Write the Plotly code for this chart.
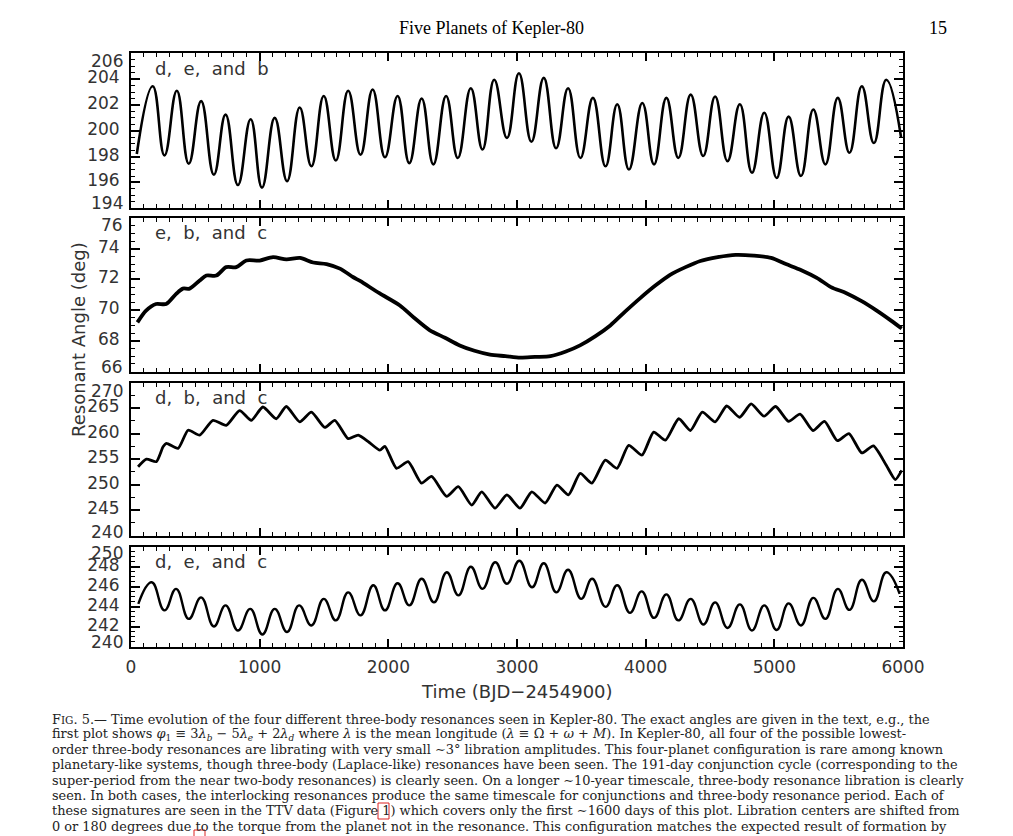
import plotly.graph_objects as go

# ---------------- data ----------------
time_ticks = [0, 1000, 2000, 3000, 4000, 5000, 6000]

# panel 1: d, e, and b
t1 = [45, 169, 260, 356, 449, 545, 644, 735, 831, 930, 1018, 1117, 1213, 1311, 1402, 1498,
      1592, 1688, 1784, 1878, 1974, 2072, 2163, 2259, 2350, 2449, 2540, 2641, 2732, 2823, 2922,
      3015, 3112, 3208, 3304, 3397, 3493, 3590, 3688, 3779, 3870, 3974, 4065, 4161, 4254, 4350,
      4447, 4540, 4636, 4732, 4826, 4922, 5018, 5111, 5207, 5303, 5397, 5493, 5584, 5680, 5774,
      5870, 5985]
phi1 = [198.2, 203.45, 198.1, 203.1, 197.45, 202.3, 196.6, 201.25, 195.8, 200.9, 195.6, 201.0,
        196.1, 201.8, 197.25, 202.7, 197.7, 203.1, 198.15, 203.2, 197.95, 202.7, 197.5, 202.5,
        197.4, 202.7, 197.9, 203.3, 198.55, 203.95, 199.45, 204.45, 199.15, 204.1, 198.65, 203.3,
        197.9, 202.55, 197.25, 202.05, 197.0, 202.15, 197.4, 202.55, 197.9, 202.8, 198.05, 202.65,
        197.65, 202.05, 196.75, 201.4, 196.35, 201.1, 196.5, 201.65, 197.4, 202.55, 198.3, 203.45,
        199.05, 203.95, 199.5]

# panel 2: e, b, and c
t2 = [50, 117, 195, 273, 351, 403, 455, 534, 586, 663, 740, 818, 896, 1000, 1104, 1208, 1313,
      1416, 1520, 1624, 1728, 1780, 1930, 2090, 2200, 2320, 2440, 2555, 2670, 2790, 2910, 3025,
      3140, 3260, 3380, 3490, 3610, 3725, 3840, 3960, 4075, 4190, 4310, 4425, 4560, 4700, 4840,
      4975, 5090, 5210, 5330, 5440, 5560, 5675, 5790, 5910, 5990]
phi2 = [69.2, 69.97, 70.4, 70.4, 71.06, 71.4, 71.4, 71.93, 72.25, 72.25, 72.8, 72.8, 73.23,
        73.23, 73.45, 73.3, 73.4, 73.1, 73.0, 72.7, 72.14, 71.9, 71.1, 70.3, 69.5, 68.7, 68.2,
        67.7, 67.35, 67.1, 67.0, 66.9, 66.95, 67.0, 67.3, 67.7, 68.3, 69.0, 69.9, 70.8, 71.6,
        72.3, 72.8, 73.2, 73.45, 73.6, 73.55, 73.4, 73.0, 72.6, 72.1, 71.5, 71.1, 70.6, 70.0,
        69.3, 68.8]

# panel 3: d, b, and c
t3 = [55, 120, 197, 249, 275, 366, 444, 534, 637, 740, 844, 935, 1025, 1129, 1207, 1311, 1402,
      1506, 1584, 1688, 1766, 1850, 1934, 1973, 2064, 2154, 2258, 2336, 2453, 2544, 2648, 2726,
      2829, 2921, 3024, 3115, 3219, 3310, 3400, 3491, 3582, 3686, 3777, 3868, 3972, 4062, 4153,
      4257, 4348, 4440, 4540, 4630, 4730, 4820, 4920, 5010, 5110, 5200, 5300, 5390, 5490, 5580,
      5680, 5770, 5870, 5940, 5990]
phi3 = [253.5, 255.0, 254.5, 257.4, 258.1, 257.1, 260.65, 259.7, 262.6, 261.6, 264.5, 262.6,
        265.2, 262.9, 265.3, 262.3, 264.2, 261.2, 262.6, 259.0, 259.7, 258.3, 256.75, 257.5,
        253.2, 254.5, 250.3, 251.6, 247.7, 249.6, 246.0, 248.6, 245.4, 248.0, 245.4, 248.6,
        246.4, 249.9, 248.0, 252.2, 250.3, 254.8, 253.2, 257.7, 255.8, 260.3, 258.7, 262.9,
        260.6, 264.2, 262.3, 265.4, 263.2, 265.8, 263.4, 265.3, 262.4, 263.8, 260.6, 262.4,
        258.6, 260.0, 256.2, 257.6, 253.8, 251.0, 252.8]

# panel 4: d, e, and c
t4 = [57, 161, 260, 351, 449, 545, 644, 735, 831, 927, 1021, 1117, 1213, 1306, 1402, 1498,
      1592, 1688, 1784, 1883, 1974, 2072, 2163, 2259, 2355, 2454, 2545, 2641, 2732, 2831, 2922,
      3018, 3117, 3208, 3306, 3397, 3499, 3584, 3688, 3779, 3878, 3969, 4065, 4161, 4254, 4350,
      4449, 4540, 4636, 4732, 4826, 4922, 5018, 5111, 5207, 5303, 5397, 5493, 5584, 5680, 5774,
      5870, 5974]
phi4 = [244.3, 246.45, 243.65, 245.8, 242.8, 244.95, 242.05, 244.15, 241.65, 243.8, 241.25,
        243.8, 241.5, 244.15, 242.15, 244.8, 242.65, 245.45, 243.15, 246.15, 243.65, 246.35,
        244.15, 246.8, 244.45, 247.45, 245.15, 248.0, 245.8, 248.45, 246.3, 248.6, 245.95,
        248.35, 245.45, 247.7, 244.8, 246.8, 244.0, 246.15, 243.4, 245.55, 242.9, 245.25,
        242.65, 244.8, 242.25, 244.45, 241.9, 244.25, 241.65, 244.15, 241.7, 244.35, 242.15,
        244.9, 242.8, 245.8, 243.7, 246.7, 244.55, 247.45, 245.3]

yticks1 = [194, 196, 198, 200, 202, 204, 206]
yticks2 = [66, 68, 70, 72, 74, 76]
yticks3 = [240, 245, 250, 255, 260, 265, 270]
yticks4 = [240, 242, 244, 246, 248, 250]

panel_labels = ["d,  e,  and  b", "e,  b,  and  c", "d,  b,  and  c", "d,  e,  and  c"]
x_title = "Time (BJD\u22122454900)"
y_title = "Resonant Angle (deg)"
header_title = "Five Planets of Kepler-80"
page_number = "15"

caption_lines = [
    "F<span style='font-size:10.5px'>IG</span>. 5.\u2014 Time evolution of the four different three-body resonances seen in Kepler-80. The exact angles are given in the text, e.g., the",
    "first plot shows <i>\u03c6</i><sub>1</sub> \u2261 3<i>\u03bb<sub>b</sub></i> \u2212 5<i>\u03bb<sub>e</sub></i> + 2<i>\u03bb<sub>d</sub></i> where <i>\u03bb</i> is the mean longitude (<i>\u03bb</i> \u2261 \u03a9 + <i>\u03c9</i> + <i>M</i>). In Kepler-80, all four of the possible lowest-",
    "order three-body resonances are librating with very small \u223c3\u00b0 libration amplitudes. This four-planet configuration is rare among known",
    "planetary-like systems, though three-body (Laplace-like) resonances have been seen. The 191-day conjunction cycle (corresponding to the",
    "super-period from the near two-body resonances) is clearly seen. On a longer \u223c10-year timescale, three-body resonance libration is clearly",
    "seen. In both cases, the interlocking resonances produce the same timescale for conjunctions and three-body resonance period. Each of",
    "these signatures are seen in the TTV data (Figure 1) which covers only the first \u223c1600 days of this plot. Libration centers are shifted from",
    "0 or 180 degrees due to the torque from the planet not in the resonance. This configuration matches the expected result of formation by",
    "planetary migration (\u00a77).",
]

# ---------------- layout / styling ----------------
W, H = 1013, 836
X0, X1 = 131, 903
boxes = [(53.3, 208.3), (218.0, 371.5), (382.5, 535.7), (546.7, 647.0)]
ranges = [(194, 206), (66, 76), (240, 270), (240, 250)]
minors = [0.5, 0.5, 2.5, 0.5]
yticks_all = [yticks1, yticks2, yticks3, yticks4]
series = [(t1, phi1, 2.6, 1.3), (t2, phi2, 3.8, 0.8), (t3, phi3, 2.8, 0.6), (t4, phi4, 2.4, 1.3)]
edge_shift = [(-8, 5), (-7, 5), (-8, 4), (-6, 5)]  # px shifts for top / bottom labels

TXT = "#333333"
SANS = "DejaVu Sans"
SERIF = "Liberation Serif"
CAP_FONT = "DejaVu Serif"

fig = go.Figure()
layout = dict(template="none", width=W, height=H, autosize=False,
              margin=dict(l=0, r=0, t=0, b=0, pad=0, autoexpand=False),
              paper_bgcolor="white", plot_bgcolor="white", showlegend=False)
annotations = []

for i in range(4):
    n = i + 1
    sx = "" if n == 1 else str(n)
    t, v, lw, sm = series[i]
    fig.add_trace(go.Scatter(x=t, y=v, mode="lines", xaxis="x" + sx, yaxis="y" + sx,
                             line=dict(color="black", width=lw, shape="spline", smoothing=sm),
                             hoverinfo="skip"))
    top, bot = boxes[i]
    lo, hi = ranges[i]
    yt = [v_ for v_ in yticks_all[i] if lo < v_ < hi]
    layout["xaxis" + sx] = dict(
        domain=[X0 / W, X1 / W], range=[0, 6000], anchor="y" + sx, automargin=False,
        tickmode="array", tickvals=time_ticks, ticktext=[str(x) for x in time_ticks],
        ticks="inside", ticklen=8, tickwidth=1.5, tickcolor="black",
        minor=dict(tickmode="linear", tick0=0, dtick=100, ticks="inside", ticklen=4,
                   tickwidth=1, tickcolor="black", showgrid=False),
        showline=True, linewidth=2, linecolor="black", mirror="allticks",
        showgrid=False, zeroline=False, showticklabels=(n == 4),
        tickfont=dict(family=SANS, size=17, color=TXT), ticklabelstandoff=4)
    layout["yaxis" + sx] = dict(
        domain=[1 - bot / H, 1 - top / H], range=[lo, hi], anchor="x" + sx, automargin=False,
        tickmode="array", tickvals=yt, ticktext=[str(v_) for v_ in yt],
        ticks="inside", ticklen=9, tickwidth=1.5, tickcolor="black",
        minor=dict(tickmode="linear", tick0=lo, dtick=minors[i], ticks="inside", ticklen=4,
                   tickwidth=1, tickcolor="black", showgrid=False),
        showline=True, linewidth=2, linecolor="black", mirror="allticks",
        showgrid=False, zeroline=False, ticklabelshift=-2,
        tickfont=dict(family=SANS, size=17, color=TXT), ticklabelstandoff=6)
    # edge tick labels, nudged inside the panel as in the original
    for val, sh in ((hi, edge_shift[i][0]), (lo, edge_shift[i][1])):
        annotations.append(dict(text=str(val), xref="paper", x=124.5 / W, xanchor="right",
                                yref="y" + sx, y=val, yanchor="middle", yshift=sh,
                                showarrow=False, font=dict(family=SANS, size=17, color=TXT)))
    # panel label
    annotations.append(dict(text=panel_labels[i], xref="paper", x=153 / W, xanchor="left",
                            yref="paper", y=1 - (top + 15) / H, yanchor="middle",
                            showarrow=False, font=dict(family=SANS, size=18, color=TXT)))

annotations.append(dict(text=x_title, xref="paper", x=517 / W, xanchor="center",
                        yref="paper", y=1 - 691 / H, yanchor="middle", showarrow=False,
                        font=dict(family=SANS, size=18, color=TXT)))
annotations.append(dict(text=y_title, xref="paper", x=78 / W, xanchor="center",
                        yref="paper", y=1 - 340 / H, yanchor="middle", textangle=-90,
                        showarrow=False, font=dict(family=SANS, size=18, color=TXT)))
annotations.append(dict(text=header_title, xref="paper", x=491 / W, xanchor="center",
                        yref="paper", y=1 - 28 / H, yanchor="middle", showarrow=False,
                        font=dict(family=SERIF, size=18, color="black")))
annotations.append(dict(text=page_number, xref="paper", x=949 / W, xanchor="right",
                        yref="paper", y=1 - 28 / H, yanchor="middle", showarrow=False,
                        font=dict(family=SERIF, size=18, color="black")))
for k, line in enumerate(caption_lines):
    annotations.append(dict(text=line, xref="paper", x=50 / W, xanchor="left",
                            yref="paper", y=1 - (719 + 15.3 * k) / H, yanchor="middle",
                            showarrow=False, font=dict(family=CAP_FONT, size=12.9, color="#222222")))

layout["annotations"] = annotations
# red hyperlink boxes of the PDF page
layout["shapes"] = [
    dict(type="rect", xref="paper", yref="paper", x0=378 / W, x1=389 / W,
         y0=1 - 819 / H, y1=1 - 803 / H, line=dict(color="#dd2222", width=1)),
    dict(type="rect", xref="paper", yref="paper", x0=194 / W, x1=205 / W,
         y0=1 - 848 / H, y1=1 - 830 / H, line=dict(color="#dd2222", width=1)),
]
fig.update_layout(**layout)
fig.write_html(
    "out.html",
    config={"responsive": False, "displayModeBar": False},
    post_script="document.body.style.margin='0';document.body.style.overflow='hidden';",
)
